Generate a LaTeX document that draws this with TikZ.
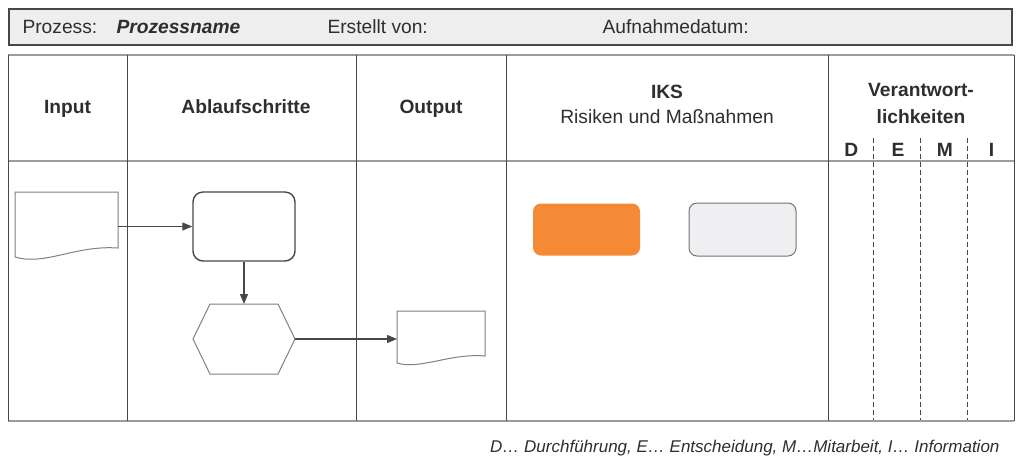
\documentclass[tikz,border=0pt]{standalone}
\usepackage{fontspec}
\setmainfont{Liberation Sans}
\usetikzlibrary{calc,arrows.meta}
\definecolor{ink}{HTML}{2E2E2E}
\definecolor{rule}{HTML}{474747}
\definecolor{softrule}{HTML}{9C9C9C}
\definecolor{headfill}{HTML}{EEEEEF}
\definecolor{riskorange}{HTML}{F58A36}
\definecolor{measuregray}{HTML}{EFEFF1}
\newcommand\hdsize{\fontsize{19.2pt}{23pt}\selectfont}
\newcommand\ftsize{\fontsize{17pt}{20pt}\selectfont}
\tikzset{
	title/.style={anchor=base, text=ink, font=\hdsize},
	boldtitle/.style={anchor=base, text=ink, font=\hdsize\bfseries},
	blank/.style={inner sep=0pt, outer sep=0pt},
	docline/.style={draw=black!50, line width=1pt},
	flowarrow/.style={draw=rule, line width=1.3pt, -{Triangle[length=10pt,width=8pt]}}
}

\begin{document}
\begin{tikzpicture}[x=1pt, y=-1pt]
		%%%%% START %%%%%
		\useasboundingbox (0, 0) rectangle (1024, 464);
		
		\draw[draw=rule, fill=headfill, line width=1.5pt] (9, 9) rectangle (1012, 45);
		\node[title, anchor=base west] (prozess) at (19, 33) {Prozess:};
		\node[boldtitle, font=\hdsize\bfseries\itshape, anchor=base west] (pname) at (113, 33) {Prozessname};
		\node[title, anchor=base west] (erstellt) at (324, 33) {Erstellt von:};
		\node[title, anchor=base west] (datum) at (599, 33) {Aufnahmedatum:};
		
		\foreach \x in {873, 920, 967}
			\draw[rule, line width=0.8pt, dash pattern=on 5pt off 3pt] (\x, 138) -- (\x, 421);
		\foreach \y in {55, 161, 421}
			\draw[softrule, line width=1.8pt] (8, \y) -- (1014, \y);
		\foreach \x in {8, 127, 356, 506, 828, 1014}
			\draw[rule, line width=1pt] (\x, 55) -- (\x, 421);
		
		\node[boldtitle] (tinput) at (67.5, 113) {Input};
		\node[boldtitle] (tsteps) at (246, 113) {Ablaufschritte};
		\node[boldtitle] (toutput) at (431, 113) {Output};
		\node[boldtitle] (tiks) at (667, 98) {IKS};
		\node[title] (trisk) at (667, 123) {Risiken und Maßnahmen};
		\node[boldtitle] (tresp) at (921, 96) {Verantwort-};
		\node[boldtitle] (tresp2) at (921, 123) {lichkeiten};
		\foreach \l [count=\i] in {D, E, M, I}
			\node[boldtitle] (role\l) at (804.6+46.75*\i, 156) {\l};
		
		% input document
		\node[blank, minimum width=103pt, minimum height=65pt] (indoc) at (66.5, 224.5) {};
		\draw[docline] (indoc.south west) -- (indoc.north west) -- (indoc.north east) -- ($(indoc.south east)+(0, -9)$) .. controls +(-43, -3) and +(30, 9) .. (indoc.south west);
		
		\node[draw=rule, line width=1.4pt, rounded corners=10pt, minimum width=102pt, minimum height=69pt] (step) at (244, 226.5) {};
		
		% hexagon
		\node[blank, minimum width=102pt, minimum height=70pt] (prep) at (244, 339) {};
		\draw[docline] (prep.west) -- ($(prep.north west)+(17, 0)$) -- ($(prep.north east)+(-17, 0)$) -- (prep.east) -- ($(prep.south east)+(-17, 0)$) -- ($(prep.south west)+(17, 0)$) -- cycle;
		
		% output document
		\node[blank, minimum width=88pt, minimum height=52pt] (outdoc) at (441, 337) {};
		\draw[docline] (outdoc.south west) -- (outdoc.north west) -- (outdoc.north east) -- ($(outdoc.south east)+(0, -7)$) .. controls +(-35, -3) and +(23, 7) .. (outdoc.south west);
		
		\draw[flowarrow] (step.west -| indoc.east) -- (step.west);
		\draw[flowarrow] (step.south) -- (prep.north);
		\draw[flowarrow] (prep.east) -- (prep.east -| outdoc.west);
		
		\node[fill=riskorange, rounded corners=8pt, minimum width=107pt, minimum height=52pt] (risk) at (586.5, 229.5) {};
		\node[draw=black!55, fill=measuregray, line width=1pt, rounded corners=8pt, minimum width=107pt, minimum height=53pt] (measure) at (742.5, 229.5) {};
		
		\node[anchor=base east, text=ink, font=\ftsize\itshape] (legend) at (1003, 452) {D… Durchführung, E… Entscheidung, M…Mitarbeit, I… Information};
		
		%%%%% END %%%%%
	\end{tikzpicture}
\end{document}
